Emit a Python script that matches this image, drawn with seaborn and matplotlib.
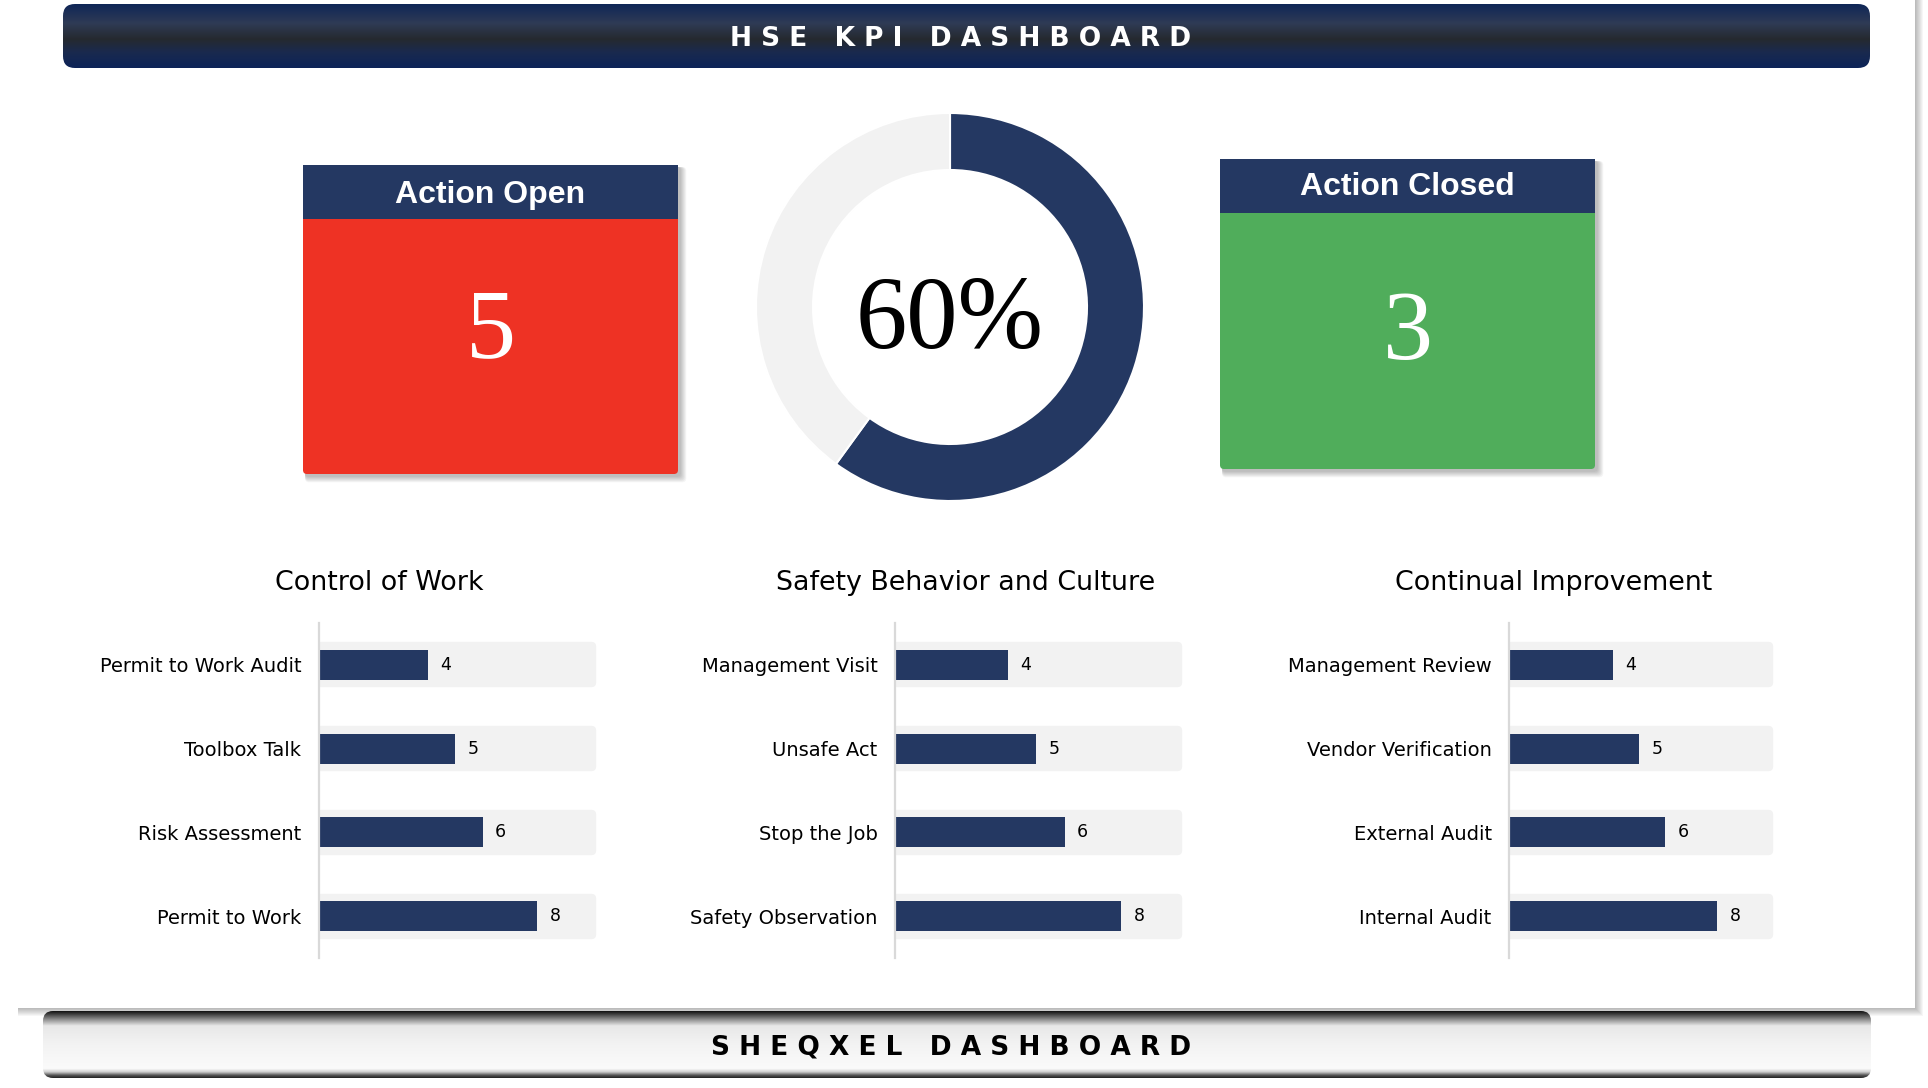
import numpy as np
import pandas as pd
import matplotlib
matplotlib.use("Agg")
import matplotlib.pyplot as plt
import seaborn as sns
from matplotlib.patches import FancyBboxPatch, Rectangle
from matplotlib.colors import LinearSegmentedColormap

# ---------------- data ----------------
dashboard_title = "HSE KPI DASHBOARD"
footer_title = "SHEQXEL DASHBOARD"
kpi_labels = ["Action Open", "Action Closed"]
kpi_values = [5, 3]
completion_pct = 60
chart_titles = ["Control of Work", "Safety Behavior and Culture", "Continual Improvement"]
cow_items = ["Permit to Work Audit", "Toolbox Talk", "Risk Assessment", "Permit to Work"]
cow_values = [4, 5, 6, 8]
sbc_items = ["Management Visit", "Unsafe Act", "Stop the Job", "Safety Observation"]
sbc_values = [4, 5, 6, 8]
ci_items = ["Management Review", "Vendor Verification", "External Audit", "Internal Audit"]
ci_values = [4, 5, 6, 8]
scale_max = 10

# ---------------- style ----------------
sns.set_theme(style="white")
plt.rcParams["font.family"] = ["DejaVu Sans"]

NAVY = "#243862"
RED = "#ee3224"
GREEN = "#50ad5b"
LIGHT = "#f2f2f2"

W, H = 1928, 1088
fig = plt.figure(figsize=(W / 100, H / 100), dpi=100)
fig.patch.set_facecolor("white")

bg = fig.add_axes([0, 0, 1, 1])
bg.set_xlim(0, W)
bg.set_ylim(H, 0)
bg.axis("off")


def spaced(s):
    return "   ".join(" ".join(w) for w in s.split())


def gradient_box(x0, y0, w, h, stops, rounding):
    cmap = LinearSegmentedColormap.from_list("g", stops)
    grad = np.linspace(0, 1, 256).reshape(-1, 1)
    box = FancyBboxPatch((x0, y0), w, h, boxstyle=f"round,pad=0,rounding_size={rounding}",
                         fc="none", ec="none")
    bg.add_patch(box)
    im = bg.imshow(grad, cmap=cmap, extent=(x0, x0 + w, y0 + h, y0), aspect="auto",
                   origin="upper", zorder=2)
    im.set_clip_path(box)


# panel with shadow
for k in range(1, 9):
    bg.add_patch(Rectangle((18, -10), 1897 + k, 1018 + k, fc="black", alpha=0.035, ec="none", zorder=0))
bg.add_patch(Rectangle((18, -10), 1897, 1018, fc="white", ec="none", zorder=1))

# header
gradient_box(63, 4, 1807, 64,
             [(0, "#0f2657"), (0.3, "#2f3b55"), (0.55, "#25292f"), (0.75, "#1a2a4e"), (1, "#0c2358")], 12)
bg.text(961, 39, spaced(dashboard_title), color="white", fontsize=19, fontweight="bold",
        ha="center", va="center", zorder=5)

# footer
gradient_box(43, 1011, 1828, 67,
             [(0, "#111111"), (0.12, "#8a8a8a"), (0.22, "#e8e8e8"), (0.5, "#f3f3f3"),
              (0.86, "#fbfbfb"), (0.91, "#cfcfcf"), (0.96, "#555555"), (1, "#222222")], 10)
bg.text(951, 1047, spaced(footer_title), color="black", fontsize=19, fontweight="bold",
        ha="center", va="center", zorder=5)


# KPI boxes
def kpi_box(x0, y0, w, h, hh, color, label, value, label_base, value_base):
    for k in range(1, 8):
        bg.add_patch(FancyBboxPatch((x0 + 2, y0 + 2), w + k * 0.9, h + k * 0.9,
                                    boxstyle="round,pad=0,rounding_size=4",
                                    fc="black", alpha=0.04, ec="none", zorder=2))
    bg.add_patch(FancyBboxPatch((x0, y0 + hh), w, h - hh, boxstyle="round,pad=0,rounding_size=4",
                                fc=color, ec="none", zorder=3))
    bg.add_patch(Rectangle((x0, y0), w, hh, fc=NAVY, ec="none", zorder=3))
    bg.add_patch(Rectangle((x0, y0 + hh), w, 10, fc=color, ec="none", zorder=3))
    bg.text(x0 + w / 2, label_base, label, color="white", fontsize=23, fontweight="bold",
            family=["Liberation Sans", "DejaVu Sans"], ha="center", va="baseline", zorder=5)
    bg.text(x0 + w / 2, value_base, str(value), color="white", fontsize=72,
            family=["Liberation Serif", "DejaVu Serif"], ha="center", va="baseline", zorder=5)


kpi_box(303, 165, 375, 309, 54, RED, kpi_labels[0], kpi_values[0], 203, 357)
kpi_box(1220, 159, 375, 310, 54, GREEN, kpi_labels[1], kpi_values[1], 195, 359)

# donut
R = 194.0
cx, cy = 950, 307
dax = fig.add_axes([(cx - 200) / W, 1 - (cy + 200) / H, 400 / W, 400 / H])
dax.pie([completion_pct, 100 - completion_pct], colors=[NAVY, LIGHT], startangle=90,
        counterclock=False, radius=1,
        wedgeprops=dict(width=57 / R, edgecolor="white", linewidth=1.5))
lim = 200 / R
dax.set_xlim(-lim, lim)
dax.set_ylim(-lim, lim)
dax.axis("off")
dax.text(0, -41 / R, f"{completion_pct}%", ha="center", va="baseline", fontsize=74,
         family=["Liberation Serif", "DejaVu Serif"], color="black")


# bar charts
def draw_chart(left_px, unit_px, items, values, title, title_x):
    xmax = 10.4
    ax = fig.add_axes([left_px / W, 1 - 958 / H, unit_px * xmax / W, 335 / H])
    df = pd.DataFrame({"item": items, "value": values, "target": [scale_max] * len(items)})
    sns.barplot(data=df, x="target", y="item", orient="h", color=LIGHT, saturation=1,
                width=0.44, linewidth=6, edgecolor=LIGHT, ax=ax)
    for p in ax.patches:
        p.set_joinstyle("round")
    sns.barplot(data=df, x="value", y="item", orient="h", color=NAVY, saturation=1,
                width=0.36, linewidth=0, ax=ax)
    ax.bar_label(ax.containers[-1], fmt="{:.0f}", padding=9, fontsize=12.5, color="black")
    ax.set_xlim(0, xmax)
    ax.set_ylim(3.5, -0.5)
    ax.set_xticks([])
    ax.set_xlabel("")
    ax.set_ylabel("")
    ax.tick_params(axis="y", length=0, pad=12.5, labelsize=14, labelcolor="black")
    for s in ["top", "right", "bottom"]:
        ax.spines[s].set_visible(False)
    ax.spines["left"].set_color("#d9d9d9")
    ax.spines["left"].set_linewidth(1.6)
    ax.patch.set_alpha(0)
    bg.text(title_x, 583, title, ha="center", va="center", fontsize=19.4, color="black", zorder=5)


draw_chart(318.5, 27.35, cow_items, cow_values, chart_titles[0], 379)
draw_chart(895, 28.25, sbc_items, sbc_values, chart_titles[1], 966)
draw_chart(1509, 26.0, ci_items, ci_values, chart_titles[2], 1554)

fig.savefig("out.png", dpi=100, facecolor="white")
